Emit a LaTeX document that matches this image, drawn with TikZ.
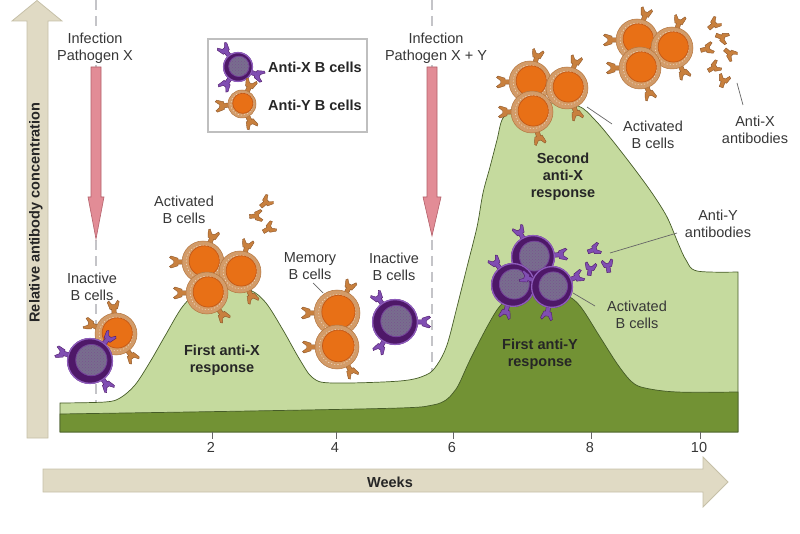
\documentclass[tikz,border=0pt]{standalone}
\usepackage{fontspec}
\setmainfont{Liberation Sans}
\usetikzlibrary{patterns}
\definecolor{lgreen}{RGB}{197,218,158}
\definecolor{dgreen}{RGB}{114,146,52}
\definecolor{gline}{RGB}{70,92,40}
\definecolor{beige}{RGB}{224,218,196}
\definecolor{beigeL}{RGB}{198,192,168}
\definecolor{pinkA}{RGB}{226,140,150}
\definecolor{pinkL}{RGB}{178,95,105}
\definecolor{halo}{RGB}{212,155,102}
\definecolor{haloL}{RGB}{178,118,66}
\definecolor{coreO}{RGB}{232,112,22}
\definecolor{coreL}{RGB}{196,88,22}
\definecolor{orec}{RGB}{200,128,62}
\definecolor{orecL}{RGB}{140,85,40}
\definecolor{pout}{RGB}{78,24,104}
\definecolor{prim}{RGB}{142,92,188}
\definecolor{pcore}{RGB}{120,110,142}
\definecolor{precp}{RGB}{128,78,178}
\definecolor{txt}{RGB}{55,55,55}
\definecolor{dash}{RGB}{196,196,200}
\begin{document}
\begin{tikzpicture}[x=1pt,y=-1pt,
  lbl/.style={font=\fontsize{14.5}{17}\selectfont, text=txt, align=center, inner sep=0pt},
  blbl/.style={lbl, font=\fontsize{14.5}{17}\selectfont\bfseries, text=black!85},
  wlbl/.style={lbl, fill=white, inner sep=1pt},
  beigearrow/.style={fill=beige, draw=beigeL, line width=0.8pt},
  pinkarrow/.style={fill=pinkA, draw=pinkL, line width=0.6pt},
  dashline/.style={draw=dash, line width=2pt, dash pattern=on 10pt off 6pt},
  lg/.style={fill=lgreen, draw=gline, line width=0.7pt},
  dg/.style={fill=dgreen, draw=gline, line width=0.7pt},
  tickline/.style={draw=black!60, line width=0.8pt},
  ldr/.style={draw=black!60, line width=0.7pt},
  pics/ocell/.style 2 args={code={
    \foreach \a in {#2} {
      \fill[orec, draw=orecL, line width=0.4pt, rotate=\a]
        ({#1-4},-2.2) -- ({#1+4},-2.2) -- ({#1+4},-3.8) -- ({#1+11},-6) -- ({#1+12.5},-4.5) -- ({#1+8.5},-1.4)
        -- ({#1+8.5},1.4) -- ({#1+12.5},4.5) -- ({#1+11},6) -- ({#1+4},3.8) -- ({#1+4},2.2) -- ({#1-4},2.2) -- cycle;}
    \fill[halo, draw=haloL, line width=0.5pt] (0,0) circle[radius=#1pt];
    \draw[haloL!70, line width=0.8pt, dash pattern=on 1pt off 1.6pt] (0,0) circle[radius={0.9*#1*1pt}];
    \draw[white!60!halo, line width=0.6pt, dash pattern=on 1.2pt off 2pt] (0,0) circle[radius={0.8*#1*1pt}];
    \fill[coreO, draw=coreL, line width=0.7pt] ({0.06*#1},{-0.05*#1}) circle[radius={0.72*#1*1pt}];
  }},
  pics/pcell/.style 2 args={code={
    \foreach \a in {#2} {
      \fill[precp, draw=pout, line width=0.4pt, rotate=\a]
        ({#1-4},-2.2) -- ({#1+4},-2.2) -- ({#1+4},-3.8) -- ({#1+11},-6) -- ({#1+12.5},-4.5) -- ({#1+8.5},-1.4)
        -- ({#1+8.5},1.4) -- ({#1+12.5},4.5) -- ({#1+11},6) -- ({#1+4},3.8) -- ({#1+4},2.2) -- ({#1-4},2.2) -- cycle;}
    \fill[pout] (0,0) circle[radius=#1pt];
    \draw[prim, line width=1.3pt] (0,0) circle[radius={(#1-0.6)*1pt}];
    \fill[pcore] ({0.06*#1},{-0.04*#1}) circle[radius={0.68*#1*1pt}];
    \fill[pattern=crosshatch dots, pattern color=pout!75] ({0.06*#1},{-0.04*#1}) circle[radius={0.68*#1*1pt}];
    \draw[prim!60!pout, line width=0.8pt] ({0.06*#1},{-0.04*#1}) circle[radius={0.68*#1*1pt}];
  }},
  pics/oab/.style={code={
    \fill[orec, draw=orecL, line width=0.4pt]
      (-5.5,-2) -- (0,-2) -- (0,-3.8) -- (6,-6) -- (7.5,-4.3) -- (3.8,-1.3) -- (3.8,1.3) -- (7.5,4.3) -- (6,6) -- (0,3.8) -- (0,2) -- (-5.5,2) -- cycle;
  }},
  pics/pab/.style={code={
    \fill[precp, draw=pout, line width=0.4pt]
      (-5.5,-2) -- (0,-2) -- (0,-3.8) -- (6,-6) -- (7.5,-4.3) -- (3.8,-1.3) -- (3.8,1.3) -- (7.5,4.3) -- (6,6) -- (0,3.8) -- (0,2) -- (-5.5,2) -- cycle;
  }}
]
\useasboundingbox (0,0) rectangle (800,534);

% axes arrows
\path[beigearrow] (27,438) -- (27,21) -- (12,21) -- (37,0.5) -- (62,21) -- (48,21) -- (48,438) -- cycle;
\path[beigearrow] (43,469) -- (703,469) -- (703,457) -- (728,482) -- (703,507) -- (703,492) -- (43,492) -- cycle;
\node[blbl, rotate=90] (ylab) at (36,212.5) {Relative antibody concentration};
\node[blbl] (xlab) at (390,482) {Weeks};

% dashed infection lines
\coordinate (d1t) at (96,0);
\coordinate (d1b) at (96,410);
\coordinate (d2t) at (432,0);
\coordinate (d2b) at (432,400);
\draw[dashline] (d1t) -- (d1b);
\draw[dashline] (d2t) -- (d2b);

% response curves
\path[lg] (60,432) -- (60,403) -- plot[smooth,tension=0.55] coordinates {(60,403) (105,402) (120,398) (135,385) (150,362) (165,336) (183,306) (200,292) (225,286) (250,290) (266,303) (283,330) (300,360) (313,378) (332,383) (400,381) (426,375) (437,365) (447,345) (457,307) (467,267) (477,227) (483,193) (490,167) (497,140) (503,118) (518,106) (545,103) (578,106) (595,120) (612,140) (633,167) (652,193) (667,217) (678,243) (686,260) (697,271) (738,272)} -- (738,432) -- cycle;
\path[dg] (60,432) -- (60,414) -- plot[smooth,tension=0.55] coordinates {(60,414) (250,411) (400,408) (433,405) (446,400) (453,393) (459,384) (470,360) (487,327) (500,306) (515,294) (540,292) (565,295) (580,306) (600,337) (618,365) (632,382) (645,388) (677,392) (738,392)} -- (738,432) -- cycle;

% ticks
\foreach \x/\t in {212/2,336/4,453/6,591/8,700/10}{
  \coordinate (tk\t) at (\x,432);
  \draw[tickline] (tk\t) -- ++(0,7);
  \node[lbl] (tl\t) at (\x-1,447.5) {\t};
}

% infection labels and arrows
\node[wlbl] (infx) at (95,48.5) {Infection\\Pathogen X};
\node[wlbl] (infxy) at (436,48.5) {Infection\\Pathogen X + Y};
\path[pinkarrow] (91,67) -- (101,67) -- (101,197) -- (104,197) -- (96,239) -- (88,197) -- (91,197) -- cycle;
\path[pinkarrow] (427,67) -- (437,67) -- (437,197) -- (441,197) -- (432,236) -- (423,197) -- (427,197) -- cycle;

% legend
\draw[draw=black!25, line width=1.5pt, fill=white] (208,39) rectangle (367,132);
\pic at (238,67) {pcell={15}{128,-22,-125}};
\pic at (242,104) {ocell={14}{67,185,-65}};
\node[blbl, anchor=west] (legx) at (268,67) {Anti-X B cells};
\node[blbl, anchor=west] (legy) at (268,105) {Anti-Y B cells};

% labels
\node[wlbl] (inact1) at (92,286.5) {Inactive\\B cells};
\node[lbl] (act1) at (184,210) {Activated\\B cells};
\node[lbl] (mem) at (310,266.5) {Memory\\B cells};
\node[lbl] (inact2) at (394,266.5) {Inactive\\B cells};
\node[blbl] (resp1) at (222,360.5) {First anti-X\\response};
\node[blbl] (resp2) at (563,177) {Second\\anti-X\\response};
\node[blbl] (resp3) at (540,354) {First anti-Y\\response};
\node[lbl] (act2) at (653,135) {Activated\\B cells};
\node[lbl] (abx) at (755,130) {Anti-X\\antibodies};
\node[lbl] (aby) at (718,223.5) {Anti-Y\\antibodies};
\node[lbl] (act3) at (637,315) {Activated\\B cells};

% inactive cells (left)
\pic at (116,334) {ocell={21}{95,-55,160}};
\pic at (90,361) {pcell={23}{51,164,-55}};

% first activated cluster
\pic at (203,262) {ocell={21}{70,180}};
\pic at (240,272) {ocell={21}{75,-65}};
\pic at (207,293) {ocell={21}{180,-55}};
\pic[rotate=40] at (265,203) {oab};
\pic[rotate=5] at (255,216) {oab};
\pic[rotate=30] at (268,229) {oab};

% memory cells
\pic at (337,313) {ocell={23}{65,180}};
\pic at (337,347) {ocell={22}{180,-60}};

% inactive anti-X cell
\pic at (395,322) {pcell={23}{125,0,-120}};

% second activated anti-X cluster
\pic at (530,82) {ocell={21}{75,180}};
\pic at (567,88) {ocell={21}{72,-70}};
\pic at (532,112) {ocell={21}{180,-75}};

% top right cluster
\pic at (637,40) {ocell={21}{72,180}};
\pic at (672,48) {ocell={21}{75,-65}};
\pic at (640,68) {ocell={21}{180,-70}};
\pic[rotate=40] at (713,25) {oab};
\pic[rotate=-20] at (721,37) {oab};
\pic[rotate=15] at (706,49) {oab};
\pic[rotate=-40] at (729,53) {oab};
\pic[rotate=30] at (713,68) {oab};
\pic[rotate=70] at (723,82) {oab};

% activated anti-Y cluster
\pic at (533,257) {pcell={22}{118,5}};
\pic at (513,285) {pcell={22}{128,-105}};
\pic at (552,287) {pcell={21}{22,-100,160}};
\pic[rotate=20] at (593,250) {pab};
\pic[rotate=80] at (590,270) {pab};
\pic[rotate=100] at (608,267) {pab};

% leader lines
\coordinate (m1) at (313,283); \coordinate (m2) at (323,293);
\coordinate (a2a) at (587,107); \coordinate (a2b) at (612,124);
\coordinate (x1) at (737,83); \coordinate (x2) at (743,105);
\coordinate (y1) at (610,253); \coordinate (y2) at (677,233);
\coordinate (a3a) at (573,293); \coordinate (a3b) at (595,306);
\draw[ldr] (m1) -- (m2);
\draw[ldr] (a2a) -- (a2b);
\draw[ldr] (x1) -- (x2);
\draw[ldr] (y1) -- (y2);
\draw[ldr] (a3a) -- (a3b);
\end{tikzpicture}
\end{document}
